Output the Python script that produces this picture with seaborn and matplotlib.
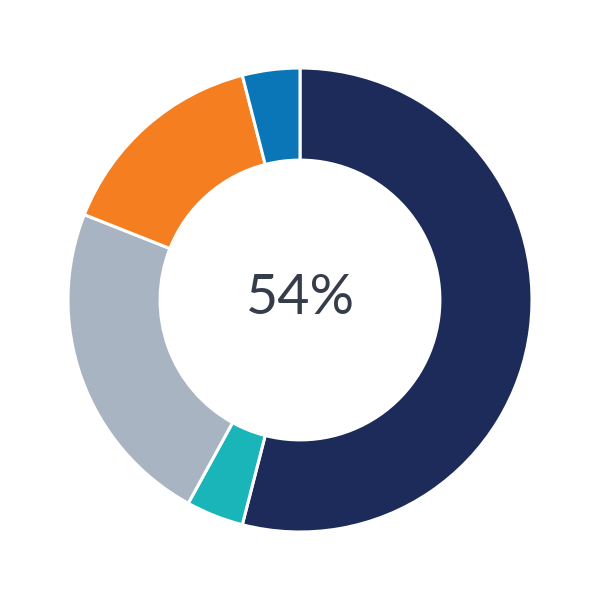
import matplotlib
matplotlib.use("Agg")
import matplotlib.pyplot as plt
import seaborn as sns

# slices clockwise from 12 o'clock
labels = ["A", "B", "C", "D", "E"]
shares = [54, 4, 23, 15, 4]
colors = ["#1c2b5a", "#1ab5b8", "#a9b4c2", "#f47e20", "#0b76b7"]
center_label = "54%"

sns.set_theme(style="white")
plt.rcParams["font.family"] = ["Lato", "DejaVu Sans"]

fig = plt.figure(figsize=(6, 6), dpi=100)
ax = fig.add_axes([0, 0, 1, 1])
ax.pie(
    shares,
    colors=colors,
    startangle=90,
    counterclock=False,
    radius=1.0,
    wedgeprops=dict(width=0.397, edgecolor="white", linewidth=2.2),
)
lim = 300 / 232
ax.set_xlim(-lim, lim)
ax.set_ylim(-lim, lim)
ax.set_aspect("equal")
ax.axis("off")
ax.text(0, 0.005, center_label, ha="center", va="center", fontsize=40,
        color="#363d4a", fontweight="normal")

fig.savefig("out.png", dpi=100, facecolor="white")
